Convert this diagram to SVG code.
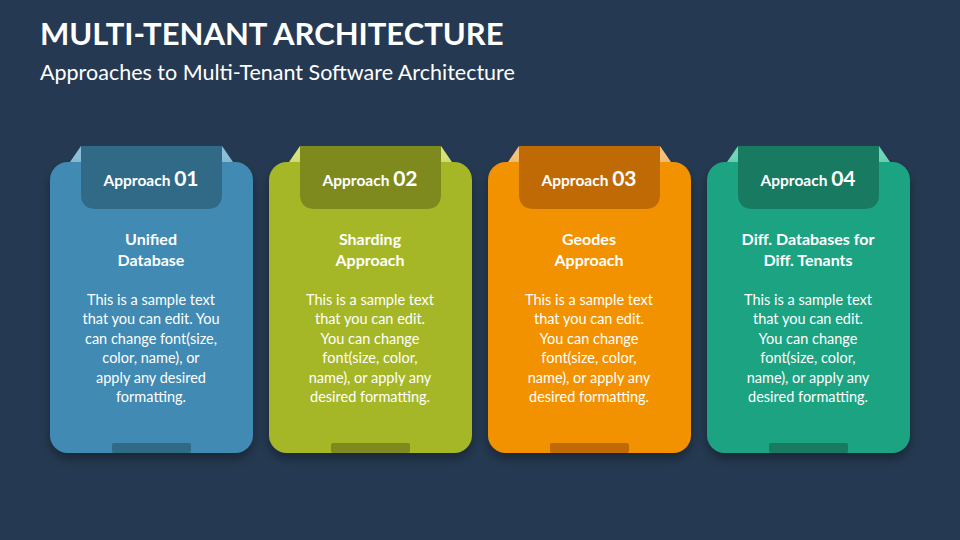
<svg xmlns="http://www.w3.org/2000/svg" width="960" height="540" viewBox="0 0 960 540">
<defs>
<style>
text{font-family:Lato,"Open Sans","Liberation Sans",sans-serif;fill:#fff;text-anchor:middle}
.h{font-size:15.5px;font-weight:bold}
.n{font-size:21px;font-weight:bold}
.t{font-size:16px;font-weight:bold}
.b{font-size:14.5px}
</style>
<filter id="sh" x="-20%" y="-20%" width="140%" height="140%"><feDropShadow dx="0" dy="6" stdDeviation="6" flood-color="#000" flood-opacity="0.35"/></filter>
</defs>
<rect width="960" height="540" fill="#253A52"/>
<text x="40" y="45" style="font-size:31px;font-weight:bold;text-anchor:start">MULTI-TENANT ARCHITECTURE</text>
<text x="40" y="80" style="font-size:21.5px;text-anchor:start">Approaches to Multi-Tenant Software Architecture</text>

<g id="card1">
<polygon points="70,162 81,146 81,162" fill="#8CBFD9"/><polygon points="233,162 222,146 222,162" fill="#8CBFD9"/>
<rect x="50" y="162" width="203" height="291" rx="18" fill="#418AB3" filter="url(#sh)"/>
<path d="M81,146 H222 V194 Q222,209 207,209 H96 Q81,209 81,194 Z" fill="#306A87"/>
<rect x="112" y="443" width="79" height="10" rx="2" fill="#306A87"/>
<text x="151" y="186"><tspan class="h">Approach </tspan><tspan class="n">01</tspan></text>
<text class="t" x="151" y="245">Unified</text><text class="t" x="151" y="266">Database</text>
<text class="b" x="151" y="305">This is a sample text</text><text class="b" x="151" y="324">that you can edit. You</text><text class="b" x="151" y="344">can change font(size,</text><text class="b" x="151" y="363">color, name), or</text><text class="b" x="151" y="383">apply any desired</text><text class="b" x="151" y="402">formatting.</text>
</g>
<g id="card2">
<polygon points="289,162 300,146 300,162" fill="#D9E27A"/><polygon points="452,162 441,146 441,162" fill="#D9E27A"/>
<rect x="269" y="162" width="203" height="291" rx="18" fill="#A5B726" filter="url(#sh)"/>
<path d="M300,146 H441 V194 Q441,209 426,209 H315 Q300,209 300,194 Z" fill="#7E8A1E"/>
<rect x="331" y="443" width="79" height="10" rx="2" fill="#7E8A1E"/>
<text x="370" y="186"><tspan class="h">Approach </tspan><tspan class="n">02</tspan></text>
<text class="t" x="370" y="245">Sharding</text><text class="t" x="370" y="266">Approach</text>
<text class="b" x="370" y="305">This is a sample text</text><text class="b" x="370" y="324">that you can edit.</text><text class="b" x="370" y="344">You can change</text><text class="b" x="370" y="363">font(size, color,</text><text class="b" x="370" y="383">name), or apply any</text><text class="b" x="370" y="402">desired formatting.</text>
</g>
<g id="card3">
<polygon points="508,162 519,146 519,162" fill="#F8C27A"/><polygon points="671,162 660,146 660,162" fill="#F8C27A"/>
<rect x="488" y="162" width="203" height="291" rx="18" fill="#F39200" filter="url(#sh)"/>
<path d="M519,146 H660 V194 Q660,209 645,209 H534 Q519,209 519,194 Z" fill="#BF6A05"/>
<rect x="550" y="443" width="79" height="10" rx="2" fill="#BF6A05"/>
<text x="589" y="186"><tspan class="h">Approach </tspan><tspan class="n">03</tspan></text>
<text class="t" x="589" y="245">Geodes</text><text class="t" x="589" y="266">Approach</text>
<text class="b" x="589" y="305">This is a sample text</text><text class="b" x="589" y="324">that you can edit.</text><text class="b" x="589" y="344">You can change</text><text class="b" x="589" y="363">font(size, color,</text><text class="b" x="589" y="383">name), or apply any</text><text class="b" x="589" y="402">desired formatting.</text>
</g>
<g id="card4">
<polygon points="727,162 738,146 738,162" fill="#6FD6B8"/><polygon points="890,162 879,146 879,162" fill="#6FD6B8"/>
<rect x="707" y="162" width="203" height="291" rx="18" fill="#1FA382" filter="url(#sh)"/>
<path d="M738,146 H879 V194 Q879,209 864,209 H753 Q738,209 738,194 Z" fill="#187A61"/>
<rect x="769" y="443" width="79" height="10" rx="2" fill="#187A61"/>
<text x="808" y="186"><tspan class="h">Approach </tspan><tspan class="n">04</tspan></text>
<text class="t" x="808" y="245">Diff. Databases for</text><text class="t" x="808" y="266">Diff. Tenants</text>
<text class="b" x="808" y="305">This is a sample text</text><text class="b" x="808" y="324">that you can edit.</text><text class="b" x="808" y="344">You can change</text><text class="b" x="808" y="363">font(size, color,</text><text class="b" x="808" y="383">name), or apply any</text><text class="b" x="808" y="402">desired formatting.</text>
</g>
<g id="connectors"/>
</svg>
